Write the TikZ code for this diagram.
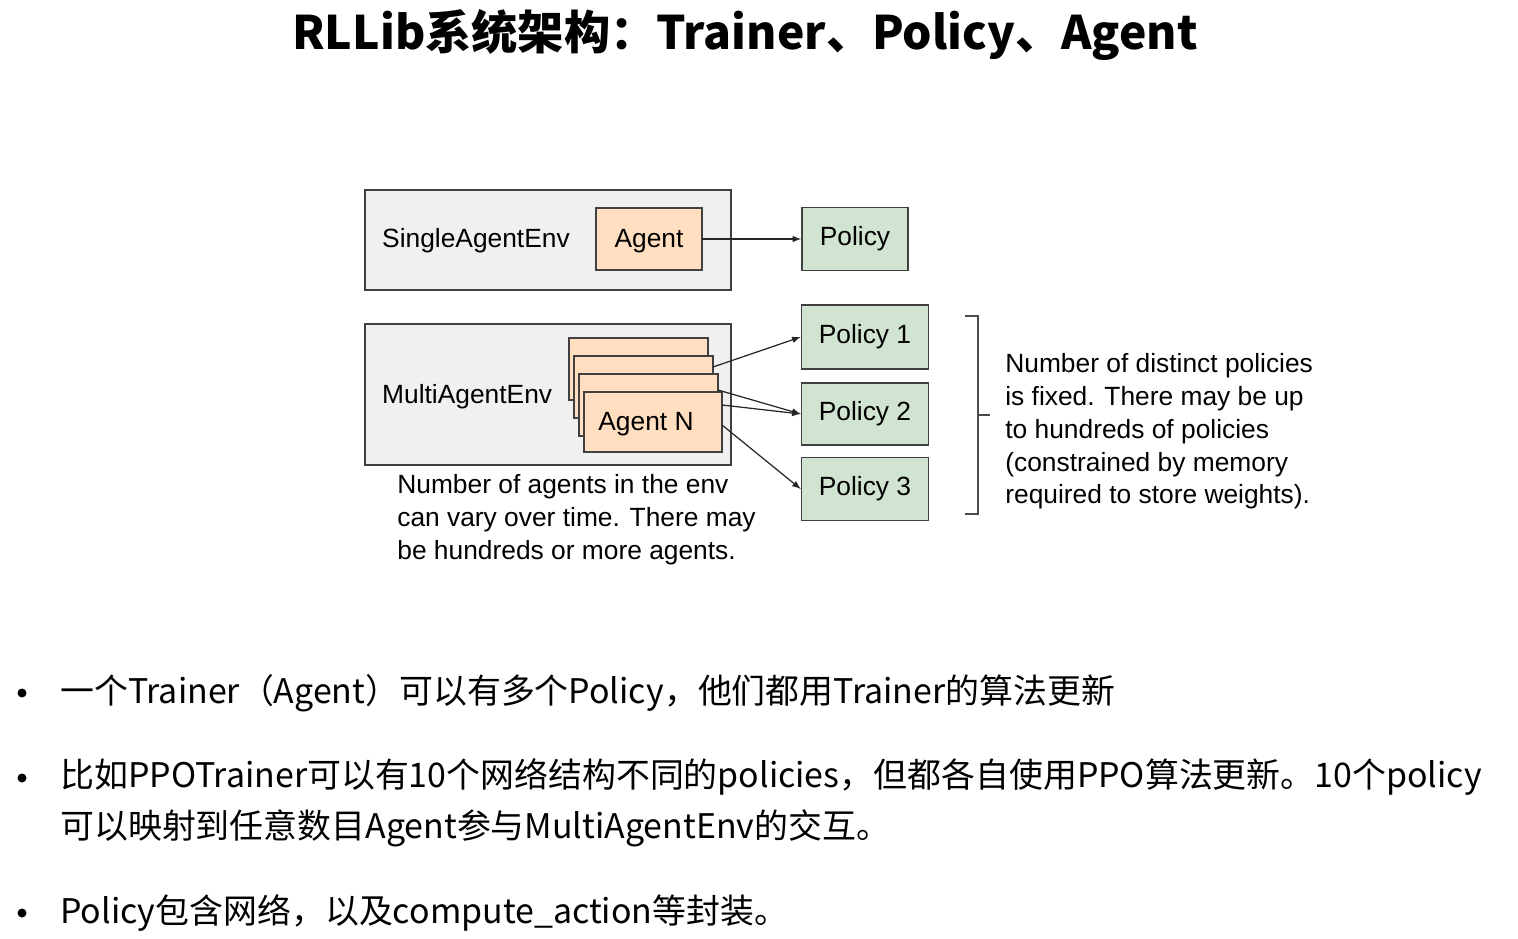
\documentclass[tikz,border=0pt]{standalone}
\usepackage{fontspec}
\setmainfont{Noto Sans CJK SC}
\newfontfamily\lab{Liberation Sans}
\begin{document}
\begin{tikzpicture}[x=0.02cm,y=-0.02cm,
 env/.style={draw=black!75,fill=black!6,line width=0.9pt},
 agent/.style={draw=black!75,fill=orange!25!white,line width=0.9pt},
 pol/.style={draw=black!75,fill=green!40!black!18!white,line width=0.9pt},
 lbl/.style={font=\lab\fontsize{15}{17}\selectfont},
 arr/.style={-latex,line width=0.7pt,black!85},
 note/.style={font=\lab\fontsize{15}{18.7}\selectfont,align=left,anchor=north west,inner sep=0pt},
 bul/.style={font=\fontsize{19.3}{29}\selectfont,anchor=west,inner sep=0pt,align=left}]
\useasboundingbox (0,0) rectangle (1518,939);
\node[font=\bfseries\fontsize{26.3}{30}\selectfont] (title) at (745,35) {RLLib系统架构：Trainer、Policy、Agent};
% single
\draw[env] (365,190) rectangle (731,290);
\node[lbl,anchor=west] (se) at (376,241) {SingleAgentEnv};
\draw[agent] (596,208) rectangle (702,270);
\node[lbl] (agt) at (649,241) {Agent};
\coordinate (agr) at (702,239);
\node[pol,lbl,minimum width=2.12cm,minimum height=1.26cm] (p0) at (855,239) {Policy};
\draw[arr] (agr) -- (p0.west);
% multi
\draw[env] (365,324) rectangle (731,465);
\node[lbl,anchor=west] (me) at (376,397) {MultiAgentEnv};
\draw[agent] (569,338) rectangle (708,400);
\draw[agent] (574,356) rectangle (713,418);
\draw[agent] (579,374) rectangle (718,436);
\draw[agent] (584,392) rectangle (722,452);
\node[lbl] (an) at (646,424) {Agent N};
\node[pol,lbl,minimum width=2.54cm,minimum height=1.28cm] (p1) at (865,337) {Policy 1};
\node[pol,lbl,minimum width=2.54cm,minimum height=1.24cm] (p2) at (865,414) {Policy 2};
\node[pol,lbl,minimum width=2.54cm,minimum height=1.26cm] (p3) at (865,489) {Policy 3};
\coordinate (a1) at (713,367);
\coordinate (a2) at (718,390);
\coordinate (a3) at (722,405);
\coordinate (a4) at (722,425);
\draw[arr] (a1) -- (p1.west);
\draw[arr] (a2) -- (p2.west);
\draw[arr] (a3) -- (p2.west);
\draw[arr] (a4) -- (p3.west);
\node[note] (n1) at (397,474) {Number of agents in the env\\can vary over time. There may\\be hundreds or more agents.};
\node[note] (n2) at (1005,353) {Number of distinct policies\\is fixed. There may be up\\to hundreds of policies\\(constrained by memory\\required to store weights).};
\draw[black!70,line width=0.8pt] (965,316) -- (978,316) -- (978,514) -- (965,514) (978,415) -- (990,415);
% bullets
\node[bul] (b1) at (60,693) {一个Trainer（Agent）可以有多个Policy，他们都用Trainer的算法更新};
\node[bul,anchor=north west] (b2) at (60,758) {比如PPOTrainer可以有10个网络结构不同的policies，但都各自使用PPO算法更新。10个policy\\可以映射到任意数目Agent参与MultiAgentEnv的交互。};
\node[bul] (b3) at (60,913) {Policy包含网络，以及compute\_action等封装。};
\foreach \y/\n in {693/d1,778/d2,913/d3} \fill (22,\y) circle (4.5) coordinate (\n);
\end{tikzpicture}
\end{document}
